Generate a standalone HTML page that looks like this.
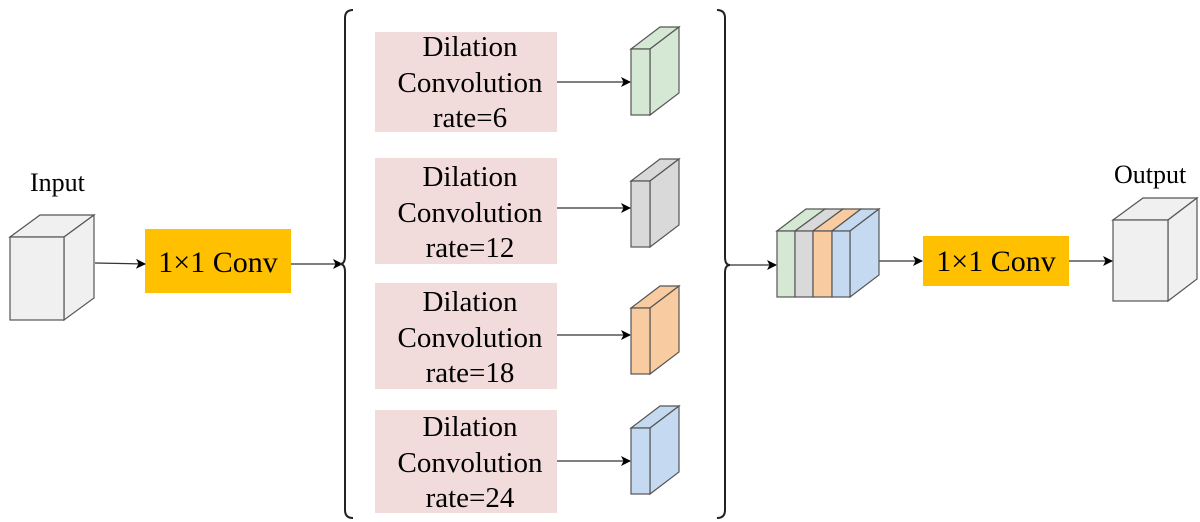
<!DOCTYPE html>
<html><head><meta charset="utf-8"><style>
html,body{margin:0;padding:0;background:#fff;}
svg{display:block;}
text{font-family:"Liberation Serif",serif;fill:#000;}
</style></head><body>
<svg width="1200" height="522" viewBox="0 0 1200 522" xmlns="http://www.w3.org/2000/svg">
<defs><marker id="a" markerWidth="10" markerHeight="10" refX="9" refY="5" orient="auto" markerUnits="userSpaceOnUse"><path d="M0,0 L10,5 L0,10 L2.5,5 Z" fill="#000"/></marker></defs>
<g stroke="#555" stroke-width="1.2">
<!-- input cube -->
<polygon points="10,237 40,215 94,215 64,237" fill="#f0f0f0"/>
<polygon points="64,237 94,215 94,298 64,320" fill="#f0f0f0"/>
<rect x="10" y="237" width="54" height="83" fill="#f0f0f0"/>
<!-- output cube -->
<polygon points="1113,220 1143,198 1197,198 1168,220" fill="#f0f0f0"/>
<polygon points="1168,220 1197,198 1197,279 1168,301" fill="#f0f0f0"/>
<rect x="1113" y="220" width="55" height="81" fill="#f0f0f0"/>
</g>
<text x="30" y="191" font-size="26">Input</text>
<text x="1114" y="183" font-size="26">Output</text>
<rect x="145" y="229" width="146" height="64" fill="#ffc000"/>
<text x="218" y="272" font-size="30" text-anchor="middle">1×1 Conv</text>
<rect x="923" y="236" width="146" height="50" fill="#ffc000"/>
<text x="996" y="271" font-size="30" text-anchor="middle">1×1 Conv</text>
<g stroke="#333" stroke-width="1.2" fill="none">
<line x1="95" y1="263" x2="145" y2="264" marker-end="url(#a)"/>
<line x1="291" y1="264" x2="342" y2="264" marker-end="url(#a)"/>
<line x1="730" y1="265" x2="776" y2="265" marker-end="url(#a)"/>
<line x1="879" y1="261" x2="922" y2="261" marker-end="url(#a)"/>
<line x1="1069" y1="261" x2="1112" y2="261" marker-end="url(#a)"/>
</g>
<!-- braces -->
<g stroke="#222" stroke-width="2" fill="none">
<path d="M353,10 Q345,10 345,18 L345,256 Q345,264 340,264 Q345,264 345,272 L345,510 Q345,518 353,518"/>
<path d="M717,10 Q725,10 725,18 L725,257 Q725,265 730,265 Q725,265 725,273 L725,510 Q725,518 717,518"/>
</g>
<!-- dilation boxes -->
<g font-size="29" text-anchor="middle">
<rect x="375" y="32" width="182" height="100" fill="#f2dcdb"/>
<text x="470" y="56">Dilation</text><text x="470" y="92">Convolution</text><text x="470" y="127">rate=6</text>
<rect x="375" y="158" width="182" height="106" fill="#f2dcdb"/>
<text x="470" y="186">Dilation</text><text x="470" y="222">Convolution</text><text x="470" y="257">rate=12</text>
<rect x="375" y="283" width="182" height="106" fill="#f2dcdb"/>
<text x="470" y="311">Dilation</text><text x="470" y="347">Convolution</text><text x="470" y="382">rate=18</text>
<rect x="375" y="410" width="182" height="103" fill="#f2dcdb"/>
<text x="470" y="436">Dilation</text><text x="470" y="472">Convolution</text><text x="470" y="507">rate=24</text>
</g>
<g stroke="#333" stroke-width="1.2">
<line x1="557" y1="82" x2="630" y2="82" marker-end="url(#a)"/>
<line x1="557" y1="208" x2="630" y2="208" marker-end="url(#a)"/>
<line x1="557" y1="335" x2="630" y2="335" marker-end="url(#a)"/>
<line x1="557" y1="461" x2="630" y2="461" marker-end="url(#a)"/>
</g>
<g stroke="#555" stroke-width="1.2">
<!-- green -->
<polygon points="631,49 660,27 679,27 650,49" fill="#d5e8d4"/>
<polygon points="650,49 679,27 679,93 650,115" fill="#d5e8d4"/>
<rect x="631" y="49" width="19" height="66" fill="#d5e8d4"/>
<!-- gray -->
<polygon points="631,181 660,159 679,159 650,181" fill="#d9d9d9"/>
<polygon points="650,181 679,159 679,225 650,247" fill="#d9d9d9"/>
<rect x="631" y="181" width="19" height="66" fill="#d9d9d9"/>
<!-- orange -->
<polygon points="631,308 660,286 679,286 650,308" fill="#f8cba0"/>
<polygon points="650,308 679,286 679,352 650,374" fill="#f8cba0"/>
<rect x="631" y="308" width="19" height="66" fill="#f8cba0"/>
<!-- blue -->
<polygon points="631,428 660,406 679,406 650,428" fill="#c5d9f0"/>
<polygon points="650,428 679,406 679,472 650,494" fill="#c5d9f0"/>
<rect x="631" y="428" width="19" height="66" fill="#c5d9f0"/>
<!-- stack -->
<polygon points="777,231 806,209 825,209 795,231" fill="#d5e8d4"/>
<polygon points="795,231 825,209 843,209 813,231" fill="#d9d9d9"/>
<polygon points="813,231 843,209 861,209 832,231" fill="#f8cba0"/>
<polygon points="832,231 861,209 879,209 850,231" fill="#c5d9f0"/>
<polygon points="850,231 879,209 879,275 850,297" fill="#c5d9f0"/>
<rect x="777" y="231" width="18" height="66" fill="#d5e8d4"/>
<rect x="795" y="231" width="18" height="66" fill="#d9d9d9"/>
<rect x="813" y="231" width="19" height="66" fill="#f8cba0"/>
<rect x="832" y="231" width="18" height="66" fill="#c5d9f0"/>
</g>
</svg>
</body></html>
